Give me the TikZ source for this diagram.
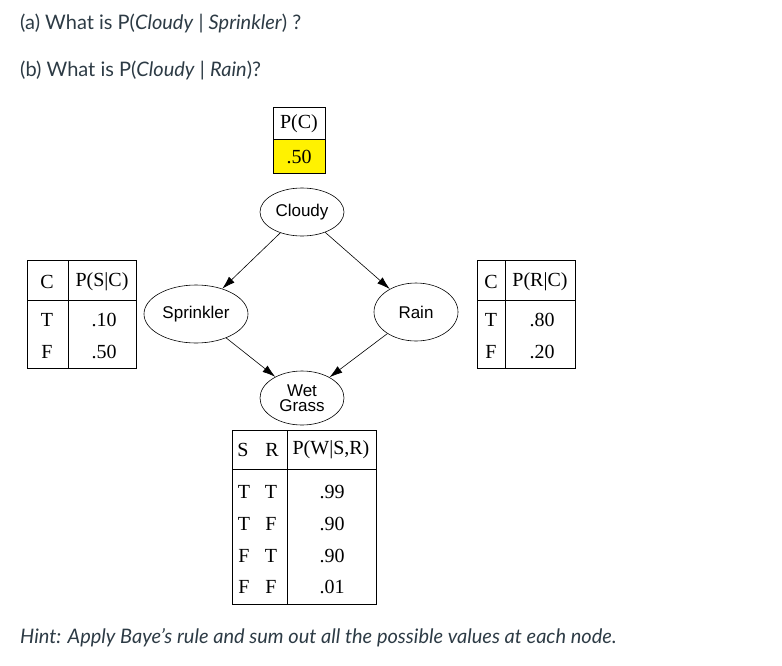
\documentclass[tikz,border=0pt]{standalone}
\usepackage{fontspec}
\setmainfont{Lato}
\newfontfamily\sansf{Liberation Sans}
\newfontfamily\serf{Liberation Serif}
\usetikzlibrary{shapes.geometric,arrows.meta}
\definecolor{txt}{HTML}{2D3B45}
\begin{document}
\begin{tikzpicture}[x=1pt,y=-1pt,
  nd/.style={ellipse,draw,semithick,inner sep=0pt,font=\sansf\fontsize{17}{17}\selectfont,align=center},
  ar/.style={-{Latex[length=13pt,width=8pt]},semithick},
  tb/.style={font=\serf\fontsize{20}{20}\selectfont,inner sep=0pt,anchor=center},
  q/.style={anchor=west,text=txt,font=\fontsize{20}{20}\selectfont,inner sep=0pt}]
\useasboundingbox (0,0) rectangle (782,665);
\node[q] (qa) at (20,23) {(a) What is P(\textit{Cloudy} | \textit{Sprinkler}) ?};
\node[q] (qb) at (20,70) {(b) What is P(\textit{Cloudy} | \textit{Rain})?};
% P(C)
\fill[yellow] (273,139) rectangle (325,173);
\draw[semithick] (273,107) rectangle (325,173) (273,139) -- (325,139);
\node[tb] (pc) at (299,124) {P(C)};
\node[tb] (pcv) at (299,157) {.50};
% nodes
\node[nd,minimum width=84pt,minimum height=48pt] (c) at (302,212) {Cloudy};
\node[nd,minimum width=104pt,minimum height=58pt] (s) at (196,314) {Sprinkler};
\node[nd,minimum width=84pt,minimum height=58pt] (r) at (416,312) {Rain};
\node[nd,minimum width=84pt,minimum height=54pt,font=\sansf\fontsize{17}{15}\selectfont] (w) at (302,398) {Wet\\Grass};
\draw[ar] (c) -- (s);
\draw[ar] (c) -- (r);
\draw[ar] (s) -- (w);
\draw[ar] (r) -- (w);
% left table
\draw[semithick] (27,260) rectangle (136,368) (68,260) -- (68,368) (27,300) -- (136,300);
\node[tb] (l1) at (47,282) {C};
\node[tb] (l2) at (102,282) {P(S|C)};
\node[tb] (l3) at (47,320) {T};
\node[tb] (l4) at (104,320) {.10};
\node[tb] (l5) at (47,352) {F};
\node[tb] (l6) at (104,352) {.50};
% right table
\draw[semithick] (477,260) rectangle (575,368) (505,260) -- (505,368) (477,300) -- (575,300);
\node[tb] (r1) at (491,282) {C};
\node[tb] (r2) at (540,282) {P(R|C)};
\node[tb] (r3) at (491,320) {T};
\node[tb] (r4) at (542,320) {.80};
\node[tb] (r5) at (491,352) {F};
\node[tb] (r6) at (542,352) {.20};
% bottom table
\draw[semithick] (232,430) rectangle (376,604) (287,430) -- (287,604) (232,469) -- (376,469);
\node[tb] (b1) at (243,450) {S};
\node[tb] (b2) at (272,450) {R};
\node[tb] (b3) at (331,450) {P(W|S,R)};
\foreach \y/\a/\b/\v [count=\i] in {492/T/T/.99,524/T/F/.90,556/F/T/.90,587/F/F/.01}{
  \node[tb] (bs\i) at (244,\y) {\a};
  \node[tb] (br\i) at (271,\y) {\b};
  \node[tb] (bv\i) at (332,\y) {\v};
}
\node[q] (hint) at (20,638) {\textit{Hint: Apply Baye's rule and sum out all the possible values at each node.}};
\end{tikzpicture}
\end{document}
